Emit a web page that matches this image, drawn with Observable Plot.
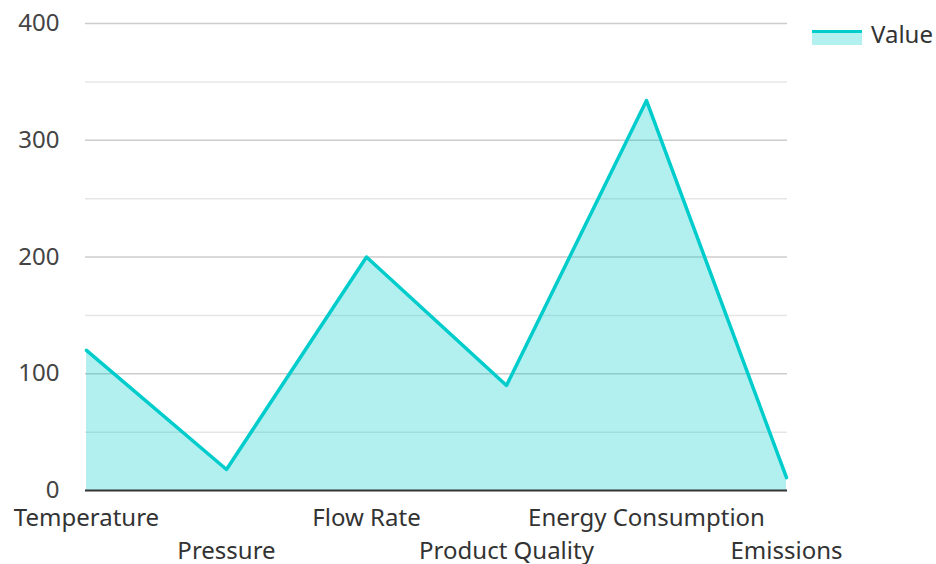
<!DOCTYPE html>
<html>
<head>
<meta charset="utf-8">
<script src="https://cdn.jsdelivr.net/npm/d3@7"></script>
<script src="https://cdn.jsdelivr.net/npm/@observablehq/plot@0.6"></script>
<style>
  html, body { margin: 0; padding: 0; background: #fff; }
  #wrap { position: relative; width: 936px; height: 564px; font-family: "Noto Sans", sans-serif; }
  #legend { position: absolute; left: 812px; top: 17px; display: flex; align-items: center; font-size: 24px; color: #333; }
  #legend .sw { width: 50px; height: 15px; background: #b3f0f0; border-top: 3px solid #00cccc; box-sizing: border-box; margin-right: 9px; margin-top: 8px; }
</style>
</head>
<body>
<div id="wrap"><div id="legend"><div class="sw"></div><span>Value</span></div></div>
<script>
const categories = ["Temperature", "Pressure", "Flow Rate", "Product Quality", "Energy Consumption", "Emissions"];
const values = [120, 18, 200, 90, 334, 11];
const majorTicks = [0, 100, 200, 300, 400];
const minorTicks = [50, 150, 250, 350];
const seriesName = "Value";

const data = categories.map((c, i) => ({category: c, value: values[i]}));

const chart = Plot.plot({
  width: 936,
  height: 564,
  marginLeft: 85,
  marginRight: 149,
  marginTop: 23,
  marginBottom: 74,
  style: {fontFamily: "Noto Sans, sans-serif", fontSize: "24px", background: "transparent"},
  x: {type: "point", domain: categories, padding: 0},
  y: {domain: [0, 400]},
  marks: [
    Plot.ruleY(minorTicks, {stroke: "#e6e6e6", strokeWidth: 1.5}),
    Plot.ruleY(majorTicks.filter(d => d > 0), {stroke: "#cccccc", strokeWidth: 1.5}),
    Plot.areaY(data, {x: "category", y: "value", fill: "#00cccc", fillOpacity: 0.3}),
    Plot.lineY(data, {x: "category", y: "value", stroke: "#00cccc", strokeWidth: 3.5}),
    Plot.ruleY([0], {stroke: "#333", strokeWidth: 2}),
    Plot.axisY({ticks: majorTicks, tickSize: 0, tickPadding: 26, label: null, fill: "#444", fontSize: 24}),
    Plot.axisX({ticks: categories.filter((d, i) => i % 2 === 0), tickSize: 0, tickPadding: 18, label: null, fill: "#333", fontSize: 24}),
    Plot.axisX({ticks: categories.filter((d, i) => i % 2 === 1), tickSize: 0, tickPadding: 51, label: null, fill: "#333", fontSize: 24})
  ]
});
document.getElementById("wrap").prepend(chart);
</script>
</body>
</html>
